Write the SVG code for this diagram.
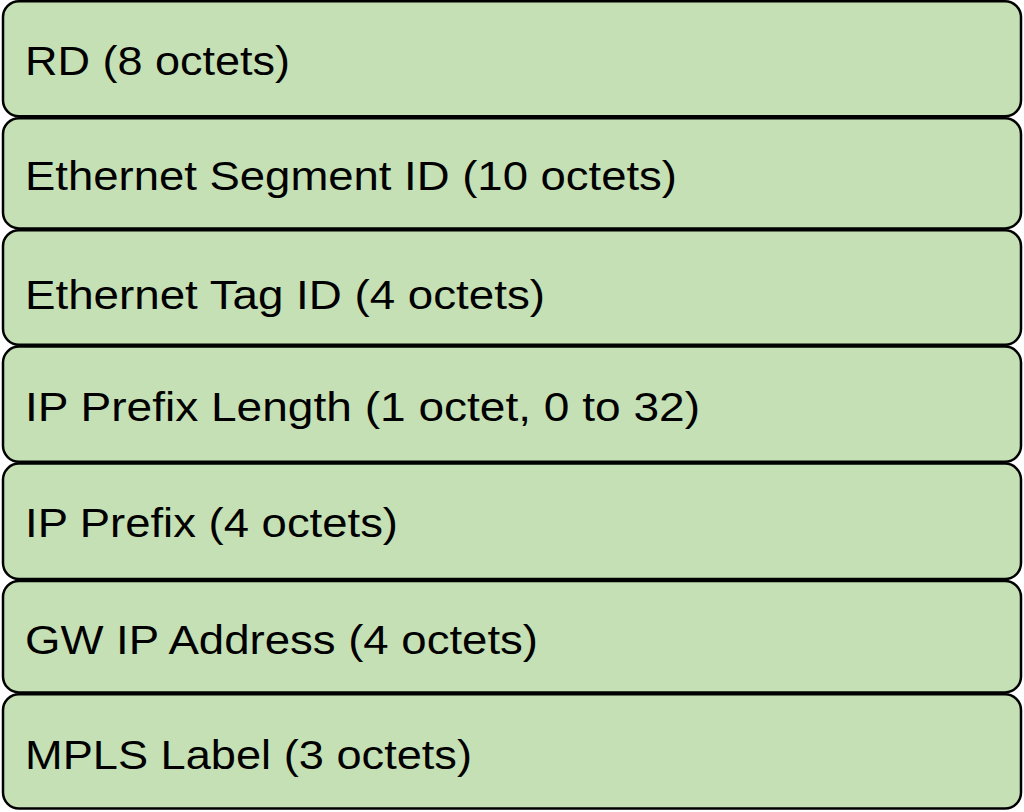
<svg xmlns="http://www.w3.org/2000/svg" width="1024" height="812" viewBox="0 0 1024 812">
<style>
.box{fill:#c5e0b4;stroke:#000;stroke-width:2.5}
.lbl{font-family:"Liberation Sans","Noto Sans",Arial,sans-serif;font-size:41px;fill:#000}
</style>
<rect width="1024" height="812" fill="#fff"/>
<g id="rd"><rect class="box" x="3" y="1.3" width="1018" height="115" rx="16"/><text class="lbl" x="25" y="75" textLength="265" lengthAdjust="spacingAndGlyphs">RD (8 octets)</text></g>
<g id="esi"><rect class="box" x="3" y="118.2" width="1018" height="110.2" rx="16"/><text class="lbl" x="25" y="190" textLength="652" lengthAdjust="spacingAndGlyphs">Ethernet Segment ID (10 octets)</text></g>
<g id="tag"><rect class="box" x="3" y="230.2" width="1018" height="114.6" rx="16"/><text class="lbl" x="25" y="308.5" textLength="520" lengthAdjust="spacingAndGlyphs">Ethernet Tag ID (4 octets)</text></g>
<g id="len"><rect class="box" x="3" y="346.6" width="1018" height="115.2" rx="16"/><text class="lbl" x="25" y="421" textLength="675" lengthAdjust="spacingAndGlyphs">IP Prefix Length (1 octet, 0 to 32)</text></g>
<g id="prefix"><rect class="box" x="3" y="463.6" width="1018" height="115.5" rx="16"/><text class="lbl" x="25" y="537" textLength="373" lengthAdjust="spacingAndGlyphs">IP Prefix (4 octets)</text></g>
<g id="gw"><rect class="box" x="3" y="580.9" width="1018" height="111.5" rx="16"/><text class="lbl" x="25" y="654" textLength="513" lengthAdjust="spacingAndGlyphs">GW IP Address (4 octets)</text></g>
<g id="mpls"><rect class="box" x="3" y="694.2" width="1018" height="114.4" rx="16"/><text class="lbl" x="25" y="768.5" textLength="447" lengthAdjust="spacingAndGlyphs">MPLS Label (3 octets)</text></g>
<g id="connectors"/>
</svg>
